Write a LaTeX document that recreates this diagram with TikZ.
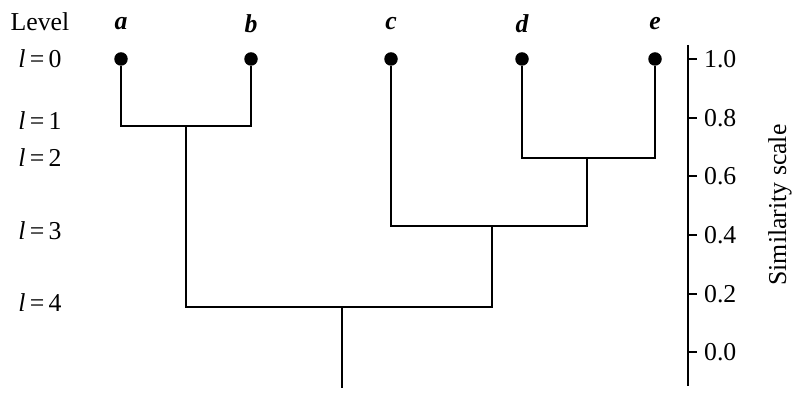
\documentclass[tikz,border=0pt]{standalone}
\usepackage{fontspec}
\setmainfont{Liberation Serif}
\begin{document}
\begin{tikzpicture}[x=0.03cm,y=-0.03cm,
  lbl/.style={font=\fontsize{22}{24}\selectfont},
  leaf/.style={circle,fill=black,inner sep=0pt,minimum size=13.5*0.03cm},
  br/.style={line width=0.9pt}]
\useasboundingbox (0,0) rectangle (800,405);
\foreach \n/\x/\t in {a/121/a,b/251/b,c/391/c,d/522/d,e/655/e}{
  \node[leaf] (\n) at (\x,59) {};
  \node[lbl,font=\fontsize{22}{24}\selectfont\bfseries\itshape] (t\n) at (\x,24) {\t};
}
\coordinate (ab) at (186,126);
\coordinate (de) at (587,158);
\coordinate (cde) at (492,226);
\coordinate (all) at (342,307);
\coordinate (root) at (342,388);
\draw[br] (a) |- (ab) -| (b);
\draw[br] (d) |- (de) -| (e);
\draw[br] (c) |- (cde) -| (de);
\draw[br] (ab) |- (all) -| (cde);
\draw[br] (all) -- (root);
\coordinate (ax1) at (688,45);
\coordinate (ax2) at (688,386);
\draw[br] (ax1) -- (ax2);
\foreach \v/\y in {1.0/59,0.8/118,0.6/176,0.4/235,0.2/294,0.0/352}{
  \draw[br] (688,\y) -- (697,\y);
  \node[lbl,anchor=west] (s\y) at (700,\y) {\v};
}
\node[lbl,rotate=90] (sim) at (780,205) {Similarity scale};
\node[lbl] (lev) at (40,22) {Level};
\foreach \i/\y in {0/59,1/121,2/158,3/231,4/303}{
  \node[lbl] (l\i) at (40,\y) {\textit{l}\,=\,\i};
}
\end{tikzpicture}
\end{document}
